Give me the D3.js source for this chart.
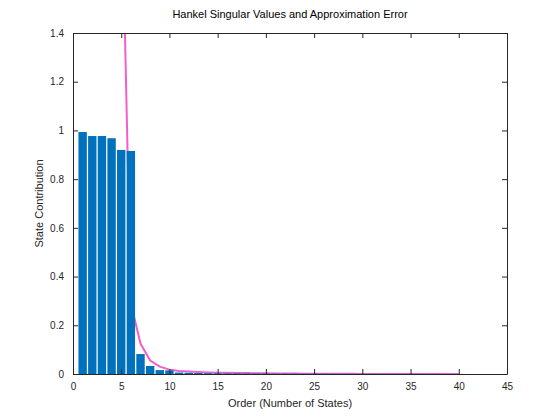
<!DOCTYPE html>
<meta charset="utf-8">
<script src="https://d3js.org/d3.v7.min.js"></script>
<style>
  body { margin: 0; background: #fff; }
  text { font-family: "Liberation Sans", Arial, sans-serif; }
</style>
<div id="my_dataviz"></div>
<script>

// state contribution of each order (bars)
var orders = d3.range(1, 41);
var hsv = [0.9935, 0.977, 0.977, 0.968, 0.920, 0.9155, 0.082, 0.033, 0.016, 0.015,
           0.006, 0.005, 0.004, 0.0035, 0.003, 0.0028, 0.0025, 0.0022, 0.002, 0.0018,
           0.0016, 0.0015, 0.0014, 0.0013, 0.0012, 0.0011, 0.001, 0.0009, 0.0008, 0.0007,
           0.0006, 0.0006, 0.0005, 0.0005, 0.0004, 0.0004, 0.0003, 0.0003, 0.0002, 0.0002];

// approximation error for each order (line)
var errOrders = d3.range(1, 41);
var errValues = [7.9, 5.95, 4.0, 3.97, 2.1, 0.29, 0.125, 0.055, 0.03, 0.018,
                 0.012, 0.010, 0.008, 0.0065, 0.0055, 0.0048, 0.0042, 0.0036, 0.0031, 0.0027,
                 0.0023, 0.0020, 0.0017, 0.0014, 0.0012, 0.0010, 0.0008, 0.0007, 0.0006, 0.0005,
                 0.0004, 0.0003, 0.00025, 0.0002, 0.00015, 0.0001, 0.00008, 0.00005, 0.00002, 0];

var xTicks = [0, 5, 10, 15, 20, 25, 30, 35, 40, 45];
var yTicks = [0, 0.2, 0.4, 0.6, 0.8, 1, 1.2, 1.4];

var margin = {top: 33, right: 53, bottom: 46, left: 73},
    width = 560 - margin.left - margin.right,
    height = 420 - margin.top - margin.bottom;

var svg = d3.select("#my_dataviz")
  .append("svg")
    .attr("width", 560)
    .attr("height", 420)
  .append("g")
    .attr("transform", "translate(" + margin.left + "," + margin.top + ")");

var x = d3.scaleLinear().domain([0, 45]).range([0, width]);
var y = d3.scaleLinear().domain([0, 1.4]).range([height, 0]);

svg.append("clipPath").attr("id", "clip")
  .append("rect").attr("width", width).attr("height", height);

var plot = svg.append("g").attr("clip-path", "url(#clip)");

// error line (drawn below the bars)
var line = d3.line()
  .x(function(d, i) { return x(errOrders[i]); })
  .y(function(d) { return y(d); });

plot.append("path")
  .datum(errValues)
  .attr("fill", "none")
  .attr("stroke", "#F060C8")
  .attr("stroke-width", 2)
  .attr("d", line);

// bars
var bw = 0.87;
plot.selectAll("rect.bar")
  .data(hsv)
  .enter()
  .append("rect")
    .attr("class", "bar")
    .attr("x", function(d, i) { return x(orders[i] - bw / 2); })
    .attr("y", function(d) { return y(d); })
    .attr("width", x(bw) - x(0))
    .attr("height", function(d) { return y(0) - y(d); })
    .attr("fill", "#0072BD");

// axes
var axisColor = "#262626";
function styleAxis(g) {
  g.select(".domain").attr("stroke", axisColor);
  g.selectAll(".tick line").attr("stroke", axisColor);
  g.selectAll(".tick text").attr("fill", axisColor).style("font-size", "10px");
}

svg.append("g")
  .attr("transform", "translate(0," + height + ")")
  .call(d3.axisBottom(x).tickValues(xTicks).tickSizeInner(-5).tickSizeOuter(0).tickPadding(9))
  .call(styleAxis);
svg.append("g")
  .call(d3.axisTop(x).tickValues(xTicks).tickSizeInner(-5).tickSizeOuter(0).tickFormat(""))
  .call(styleAxis);
svg.append("g")
  .call(d3.axisLeft(y).tickValues(yTicks).tickSizeInner(-5).tickSizeOuter(0).tickPadding(9)
    .tickFormat(function(d) { return d3.format("~g")(d); }))
  .call(styleAxis);
svg.append("g")
  .attr("transform", "translate(" + width + ",0)")
  .call(d3.axisRight(y).tickValues(yTicks).tickSizeInner(-5).tickSizeOuter(0).tickFormat(""))
  .call(styleAxis);

// title and labels
svg.append("text")
  .attr("x", width / 2)
  .attr("y", -15)
  .attr("text-anchor", "middle")
  .style("font-size", "11px")
  .attr("fill", "#000")
  .text("Hankel Singular Values and Approximation Error");

svg.append("text")
  .attr("x", width / 2)
  .attr("y", height + 33)
  .attr("text-anchor", "middle")
  .style("font-size", "11px")
  .attr("fill", axisColor)
  .text("Order (Number of States)");

svg.append("text")
  .attr("transform", "rotate(-90)")
  .attr("x", -height / 2)
  .attr("y", -30)
  .attr("text-anchor", "middle")
  .style("font-size", "11px")
  .attr("fill", axisColor)
  .text("State Contribution");

</script>
